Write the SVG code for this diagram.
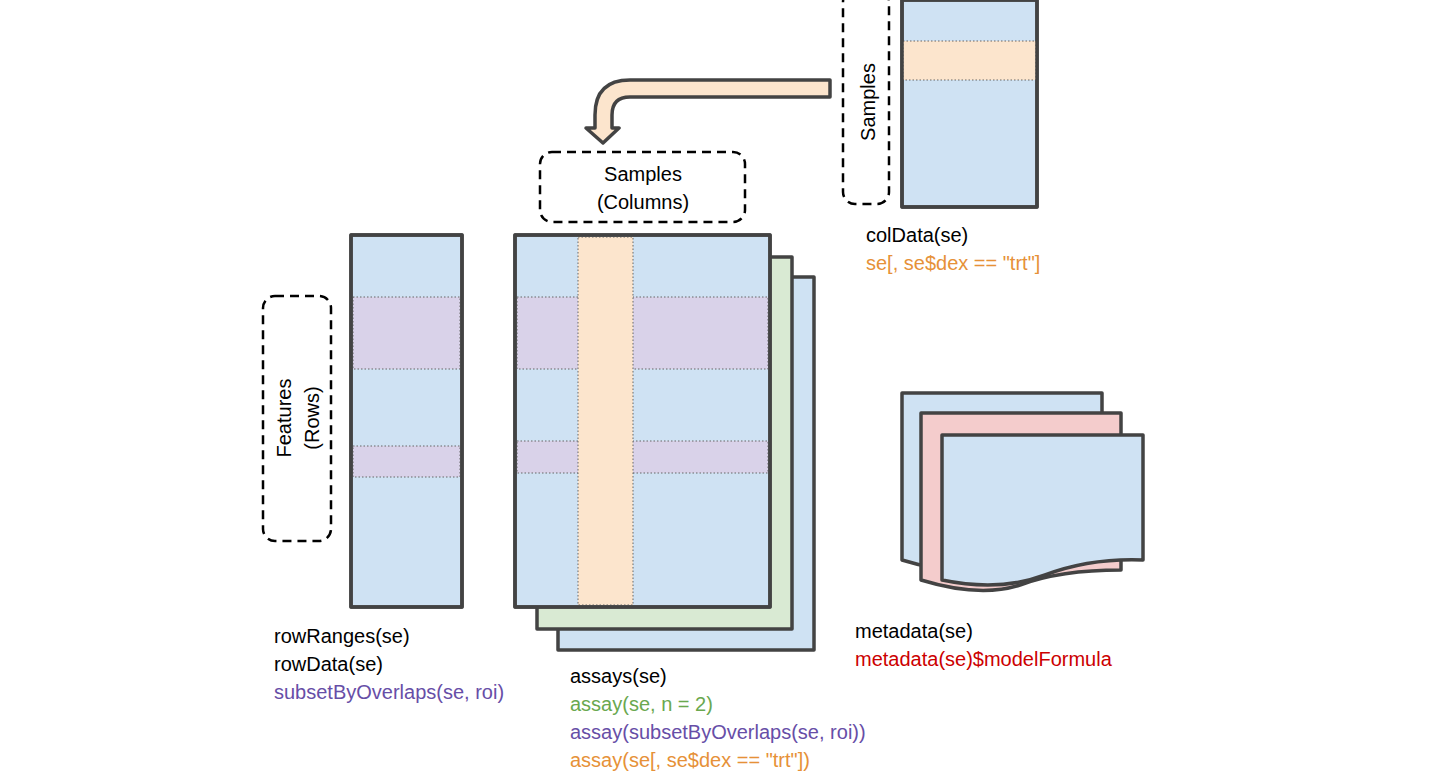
<svg xmlns="http://www.w3.org/2000/svg" width="1440" height="782" viewBox="0 0 1440 782">
<style>
.s{stroke:#434343;stroke-width:3.5;stroke-linejoin:round}
.b{fill:#cfe2f3}.o{fill:#fce5cd}.p{fill:#d9d2e9}.g{fill:#d9ead3}.k{fill:#f4cccc}
.dot{stroke:#666;stroke-width:1;stroke-dasharray:1.5,2}
.dash{fill:none;stroke:#000;stroke-width:2.5;stroke-dasharray:9,6}
text{font-family:"Liberation Sans",Arial,sans-serif;font-size:20px;fill:#000}
</style>
<rect width="1440" height="782" fill="#fff"/>
<g id="colData">
<rect x="902" y="0" width="135" height="207" class="s b"/>
<rect x="903" y="41" width="133" height="39" class="o dot"/>
<rect x="902" y="0" width="135" height="207" class="s" fill="none"/>
</g>
<g id="samplesLabel">
<rect x="843" y="-10" width="46" height="214" rx="12" class="dash"/>
<text transform="translate(875,102) rotate(-90)" text-anchor="middle">Samples</text>
</g>
<g id="connectors">
<path d="M830,80 L630,80 Q595,80 595,115 L595,128 L586,128 L603,143 L619,128 L612,128 L612,115 Q612,97 630,97 L830,97 Z" class="s o" stroke-width="3"/>
</g>
<g id="samplesColumns">
<rect x="540" y="152" width="205" height="70" rx="12" class="dash"/>
<text x="643" y="181" text-anchor="middle">Samples</text>
<text x="643" y="209" text-anchor="middle">(Columns)</text>
</g>
<g id="assays">
<rect x="558" y="277" width="256" height="373" class="s b"/>
<rect x="537" y="257" width="255" height="372" class="s g"/>
<rect x="515" y="235" width="255" height="372" class="s b"/>
<rect x="517" y="297" width="251" height="72" class="p dot"/>
<rect x="517" y="441" width="251" height="32" class="p dot"/>
<rect x="578" y="237" width="55" height="368" class="o dot"/>
<rect x="515" y="235" width="255" height="372" class="s" fill="none"/>
</g>
<g id="rowRanges">
<rect x="351" y="235" width="111" height="372" class="s b"/>
<rect x="353" y="297" width="107" height="72" class="p dot"/>
<rect x="353" y="446" width="107" height="31" class="p dot"/>
<rect x="351" y="235" width="111" height="372" class="s" fill="none"/>
</g>
<g id="featuresLabel">
<rect x="263" y="296" width="68" height="245" rx="12" class="dash"/>
<text transform="translate(291,418) rotate(-90)" text-anchor="middle">Features</text>
<text transform="translate(319,418) rotate(-90)" text-anchor="middle">(Rows)</text>
</g>
<g id="metadata">
<path d="M902,393 L1102,393 L1102,550 Q1040,550 1000,565 Q960,578 902,560 Z" class="s b"/>
<path d="M921,413 L1121,413 L1121,570 Q1060,570 1020,585 Q980,598 921,580 Z" class="s k"/>
<path d="M942,435 L1143,435 L1143,560 Q1090,558 1045,575 Q1000,592 942,580 Z" class="s b"/>
</g>
<g id="labels">
<text x="274" y="643">rowRanges(se)</text>
<text x="274" y="671">rowData(se)</text>
<text x="274" y="699" fill="#674ea7" style="fill:#674ea7">subsetByOverlaps(se, roi)</text>
<text x="570" y="683">assays(se)</text>
<text x="570" y="711" style="fill:#6aa84f">assay(se, n = 2)</text>
<text x="570" y="739" style="fill:#674ea7">assay(subsetByOverlaps(se, roi))</text>
<text x="570" y="767" style="fill:#e69138">assay(se[, se$dex == "trt"])</text>
<text x="866" y="242">colData(se)</text>
<text x="866" y="270" style="fill:#e69138">se[, se$dex == "trt"]</text>
<text x="855" y="638">metadata(se)</text>
<text x="855" y="666" style="fill:#cc0000">metadata(se)$modelFormula</text>
</g>
</svg>
